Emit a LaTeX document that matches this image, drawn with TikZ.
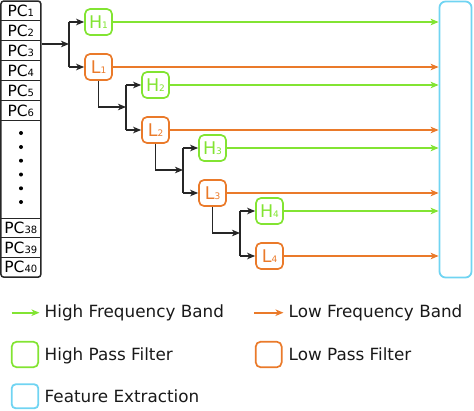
\documentclass[tikz,border=0pt]{standalone}
\usepackage{fontspec}
\setmainfont{DejaVu Sans}
\usetikzlibrary{arrows.meta,calc}
\definecolor{hgreen}{RGB}{130,228,50}
\definecolor{lorange}{RGB}{234,122,42}
\definecolor{fcyan}{RGB}{112,212,242}
\newcommand\hlsub[1]{{\fontsize{9}{9}\selectfont #1}}
\newcommand\pcsub[1]{{\fontsize{10}{10}\selectfont #1}}
\begin{document}
\begin{tikzpicture}[x=1pt,y=-1pt,
  conn/.style={draw=black!85, line width=1.5pt},
  arr/.style={-{Stealth[length=8pt,width=6.5pt,inset=2.2pt]}},
  filt/.style={line width=1.7pt, rounded corners=5pt, minimum width=27pt, minimum height=26pt, inner sep=0pt, font=\fontsize{17.5}{17.5}\selectfont},
  hbox/.style={filt, draw=hgreen, text=hgreen},
  lbox/.style={filt, draw=lorange, text=lorange},
  hline/.style={draw=hgreen, line width=1.7pt, arr},
  lline/.style={draw=lorange, line width=1.7pt, arr},
  fbox/.style={draw=fcyan, line width=1.8pt, rounded corners=6pt, inner sep=0pt},
  pctext/.style={anchor=base, inner sep=0pt, font=\fontsize{15.5}{15.5}\selectfont},
  legtext/.style={anchor=base west, inner sep=0pt, font=\fontsize{16.8}{16.8}\selectfont, text=black!90}]
\useasboundingbox (0,0) rectangle (474,410);

% PC column
\node[draw=black!85, line width=1.5pt, rounded corners=3pt, minimum width=40pt, minimum height=276.2pt, inner sep=0pt] (col) at (20.9,139.1) {};
\foreach \yy in {20.3,40.7,60.7,80.7,100.7,120.7,218.3,237.7,257.3}
  \draw[black!85, line width=1.4pt] (0.8,\yy) -- (41,\yy);
\foreach \i/\b in {1/20.3,2/40.7,3/60.7,4/80.7,5/100.7,6/120.7,38/237.7,39/257.3,40/277}
  \node[pctext] (pc\i) at (20.8,\b-4.3) {PC\pcsub{\i}};
\foreach \yy in {133,147,160.7,174.5,188.3,202}
  \fill[black] (21,\yy) circle (2pt);

% feature extraction box
\node[fbox, minimum width=32pt, minimum height=276pt] (fe) at (455.5,139.5) {};

% filters
\foreach \k [evaluate=\k as \cx using {98.5+57*(\k-1)},
             evaluate=\k as \hy using {22+63*(\k-1)},
             evaluate=\k as \ly using {67+63*(\k-1)},
             evaluate=\k as \jx using {69+57*(\k-1)},
             evaluate=\k as \jy using {44+63*(\k-1)}] in {1,2,3,4} {
  \node[hbox] (h\k) at (\cx,\hy) {H\hlsub{\k}};
  \node[lbox] (l\k) at (\cx,\ly) {L\hlsub{\k}};
  \coordinate (j\k) at (\jx,\jy);
}

\draw[conn,arr] (col.east |- j1) -- (j1);
\foreach \k in {1,2,3,4} {
  \draw[conn] (j\k |- h\k) -- (j\k |- l\k);
  \draw[conn,arr] (j\k |- h\k) -- (h\k.west);
  \draw[conn,arr] (j\k |- l\k) -- (l\k.west);
  \draw[hline] (h\k.east) -- (fe.west |- h\k);
  \draw[lline] (l\k.east) -- (fe.west |- l\k);
}
\foreach \k/\n in {1/2,2/3,3/4}
  \draw[conn,arr] (l\k.south) |- (j\n);

% legend
\coordinate (ga) at (11.7,312.7); \coordinate (gb) at (39.5,312.7);
\draw[hline] (ga) -- (gb);
\node[legtext] (t1) at (44.5,317.3) {High Frequency Band};
\coordinate (oa) at (254,312.7); \coordinate (ob) at (283.5,312.7);
\draw[lline] (oa) -- (ob);
\node[legtext] (t2) at (288.5,317.3) {Low Frequency Band};
\node[hbox, minimum width=26.6pt, minimum height=25.6pt] (lgh) at (25,354.5) {};
\node[legtext] (t3) at (44.5,360) {High Pass Filter};
\node[lbox, minimum width=26pt, minimum height=25.6pt] (lgl) at (268.7,354.5) {};
\node[legtext] (t4) at (288.5,360) {Low Pass Filter};
\node[fbox, rounded corners=4pt, minimum width=26.6pt, minimum height=24pt] (lgf) at (25,396.3) {};
\node[legtext] (t5) at (44.5,402.7) {Feature Extraction};
\end{tikzpicture}
\end{document}
